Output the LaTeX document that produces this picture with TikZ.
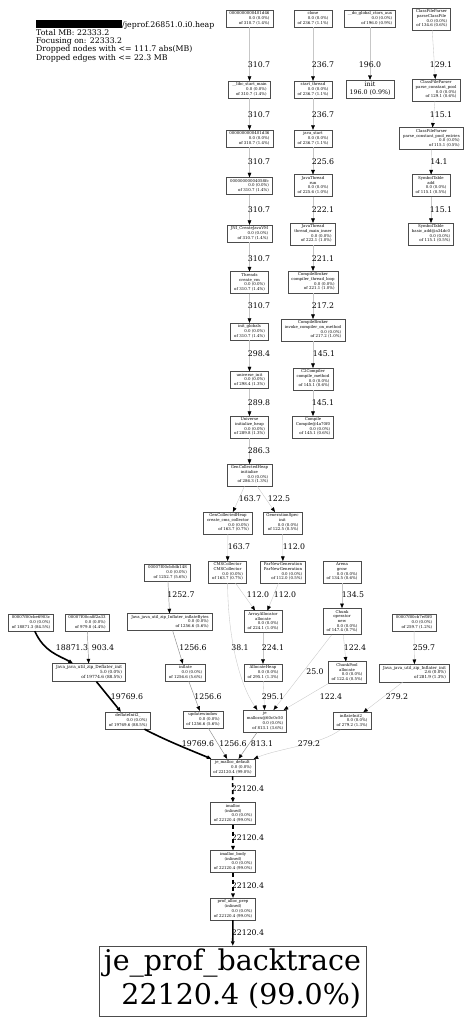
\documentclass[tikz,border=0pt]{standalone}
\usepackage{fontspec}
\setmainfont{DejaVu Serif}
\usetikzlibrary{arrows.meta}
\newcommand\nlab[3]{\begin{tabular}{@{}c@{}}#1\\\multicolumn{1}{@{}r@{}}{#2}\\\multicolumn{1}{@{}r@{}}{#3}\end{tabular}}
\newcommand\zz[2]{\nlab{#1}{0.0 (0.0\%)}{#2}}
\tikzset{
  nd/.style={draw=black!70, line width=0.5pt, fill=white, inner xsep=3.6pt, inner ysep=1.4pt, font=\fontsize{3.93}{4.7}\selectfont},
  lbl/.style={font=\fontsize{7.8}{8.3}\selectfont, inner sep=0},
  tip/.style={-{Triangle[length=4.5pt,width=3.6pt,color=black]}},
  ew0/.style={tip, draw=black!22, line width=0.35pt},
  ew1/.style={tip, draw=black!45, line width=0.45pt},
  ew2/.style={tip, draw=black, line width=1.6pt},
  ewd/.style={ew2, dash pattern=on 4pt off 3pt},
}
\begin{document}
\begin{tikzpicture}[x=1pt,y=-1pt]
\fill[white] (0,0) rectangle (474,1023);
\path[use as bounding box] (0,0) rectangle (474,1023);
% legend
\node[anchor=north west, align=left, inner sep=0, font=\fontsize{7.8}{8.25}\selectfont] (hdr) at (36,20)
 {\rule[-1.2pt]{86pt}{8.2pt}/jeprof.26851.0.i0.heap\\Total MB: 22333.2\\Focusing on: 22333.2\\Dropped nodes with <= 111.7 abs(MB)\\Dropped edges with <= 22.3 MB};
% column 1
\node[nd] (A0) at (249.5,18.5) {\zz{0000000000401d46}{of 310.7 (1.4\%)}};
\node[nd] (A1) at (249.5,89.5) {\zz{\_\_libc\_start\_main}{of 310.7 (1.4\%)}};
\node[nd] (A2) at (249.5,138.5) {\zz{0000000000401d36}{of 310.7 (1.4\%)}};
\node[nd] (A3) at (249.5,186) {\zz{00000000004058fc}{of 310.7 (1.4\%)}};
\node[nd] (A4) at (249.5,233.5) {\zz{JNI\_CreateJavaVM}{of 310.7 (1.4\%)}};
\node[nd] (A5) at (249.5,282.5) {\zz{Threads\\create\_vm}{of 310.7 (1.4\%)}};
\node[nd] (A6) at (249.5,331.5) {\zz{init\_globals}{of 310.7 (1.4\%)}};
\node[nd] (A7) at (249.5,380) {\zz{universe\_init}{of 298.4 (1.3\%)}};
\node[nd] (A8) at (249.5,427) {\zz{Universe\\initialize\_heap}{of 289.8 (1.3\%)}};
\node[nd] (A9) at (249.5,475) {\zz{GenCollectedHeap\\initialize}{of 286.3 (1.3\%)}};
% column 2
\node[nd] (B0) at (313,18.5) {\zz{clone}{of 236.7 (1.1\%)}};
\node[nd] (B1) at (313,89.5) {\zz{start\_thread}{of 236.7 (1.1\%)}};
\node[nd] (B2) at (313,138.5) {\zz{java\_start}{of 236.7 (1.1\%)}};
\node[nd] (B3) at (313,185.5) {\zz{JavaThread\\run}{of 225.6 (1.0\%)}};
\node[nd] (B4) at (313,234) {\zz{JavaThread\\thread\_main\_inner}{of 222.1 (1.0\%)}};
\node[nd] (B5) at (313,282) {\zz{CompileBroker\\compiler\_thread\_loop}{of 221.1 (1.0\%)}};
\node[nd] (B6) at (313,330) {\zz{CompileBroker\\invoke\_compiler\_on\_method}{of 217.2 (1.0\%)}};
\node[nd] (B7) at (313,379) {\zz{C2Compiler\\compile\_method}{of 145.1 (0.6\%)}};
\node[nd] (B8) at (313,427) {\zz{Compile\\Compile@4a70f0}{of 145.1 (0.6\%)}};
% column 3
\node[nd] (C0) at (370,18.5) {\zz{\_\_do\_global\_ctors\_aux}{of 196.0 (0.9\%)}};
\node[nd, font=\fontsize{6.3}{7.5}\selectfont] (C1) at (370,89) {\begin{tabular}{@{}c@{}}init\\196.0 (0.9\%)\end{tabular}};
% column 4
\node[nd] (D0) at (431.5,19) {\zz{ClassFileParser\\parseClassFile}{of 134.6 (0.6\%)}};
\node[nd] (D1) at (436,90) {\zz{ClassFileParser\\parse\_constant\_pool}{of 129.1 (0.6\%)}};
\node[nd] (D2) at (431.5,138.5) {\zz{ClassFileParser\\parse\_constant\_pool\_entries}{of 115.1 (0.5\%)}};
\node[nd] (D3) at (431,185.5) {\zz{SymbolTable\\add}{of 115.1 (0.5\%)}};
\node[nd] (D4) at (431,234) {\zz{SymbolTable\\basic\_add@a34dc0}{of 115.1 (0.5\%)}};
% middle
\node[nd] (E1) at (228,523) {\zz{GenCollectedHeap\\create\_cms\_collector}{of 163.7 (0.7\%)}};
\node[nd] (E2) at (282.5,523) {\zz{GenerationSpec\\init}{of 122.5 (0.5\%)}};
\node[nd] (F0) at (167.5,572.5) {\zz{00007f00cb0db148}{of 1252.7 (5.6\%)}};
\node[nd] (F1) at (227.5,572) {\zz{CMSCollector\\CMSCollector}{of 163.7 (0.7\%)}};
\node[nd] (F2) at (283,572) {\zz{ParNewGeneration\\ParNewGeneration}{of 112.0 (0.5\%)}};
\node[nd] (F3) at (342,572) {\zz{Arena\\grow}{of 134.5 (0.6\%)}};
\node[nd] (G0) at (31,622.5) {\zz{00007f00cbe6903c}{of 18871.3 (84.5\%)}};
\node[nd] (G1) at (87,622.5) {\zz{00007f00ca8f2a33}{of 979.8 (4.4\%)}};
\node[nd] (G2) at (170,622) {\zz{Java\_java\_util\_zip\_Inflater\_inflateBytes}{of 1256.6 (5.6\%)}};
\node[nd] (AA) at (263,621.5) {\zz{ArrayAllocator\\allocate}{of 224.1 (1.0\%)}};
\node[nd] (CH) at (342,621.5) {\zz{Chunk\\operator\\new}{of 147.4 (0.7\%)}};
\node[nd] (G5) at (414,622.5) {\zz{00007f00cb7ef0f0}{of 259.7 (1.2\%)}};
\node[nd, font=\fontsize{4.2}{5}\selectfont] (H0) at (89,672.5) {\nlab{Java\_java\_util\_zip\_Deflater\_init}{5.0 (0.0\%)}{of 19774.6 (88.5\%)}};
\node[nd] (H1) at (185.5,672.5) {\zz{inflate}{of 1256.6 (5.6\%)}};
\node[nd] (AH) at (263,672.5) {\zz{AllocateHeap}{of 295.1 (1.3\%)}};
\node[nd] (CP) at (347,672.5) {\zz{ChunkPool\\allocate}{of 122.4 (0.5\%)}};
\node[nd, font=\fontsize{4.1}{4.9}\selectfont] (II) at (414.5,673) {\nlab{Java\_java\_util\_zip\_Inflater\_init}{2.6 (0.0\%)}{of 281.9 (1.3\%)}};
\node[nd] (DI) at (128,720.5) {\zz{deflateInit2\_}{of 19769.6 (88.5\%)}};
\node[nd] (UW) at (203,719.5) {\zz{updatewindow}{of 1256.6 (5.6\%)}};
\node[nd] (JM) at (265,721) {\zz{je\\mallocx@60c0c50}{of 813.1 (3.6\%)}};
\node[nd] (IF) at (352,721) {\zz{inflateInit2\_}{of 279.2 (1.3\%)}};
\node[nd] (JMD) at (232.5,767.5) {\zz{je\_malloc\_default}{of 22120.4 (99.0\%)}};
\node[nd] (IM) at (233,813.5) {\zz{imalloc\\(inlined)}{of 22120.4 (99.0\%)}};
\node[nd] (IB) at (233,861.5) {\zz{imalloc\_body\\(inlined)}{of 22120.4 (99.0\%)}};
\node[nd] (PA) at (233,909) {\zz{prof\_alloc\_prep\\(inlined)}{of 22120.4 (99.0\%)}};
\node[nd, font=\fontsize{28.5}{34}\selectfont, inner xsep=5pt, inner ysep=1pt] (JPB) at (232.5,981)
 {\begin{tabular}{@{}c@{}}je\_prof\_backtrace\\\multicolumn{1}{@{}r@{}}{22120.4 (99.0\%)}\end{tabular}};
% edges column 1
\draw[ew0] (A0) -- (A1) node[lbl] at (259,65) {310.7};
\draw[ew0] (A1) -- (A2) node[lbl] at (259,115) {310.7};
\draw[ew0] (A2) -- (A3) node[lbl] at (259,162) {310.7};
\draw[ew0] (A3) -- (A4) node[lbl] at (259,210) {310.7};
\draw[ew0] (A4) -- (A5) node[lbl] at (259,259) {310.7};
\draw[ew0] (A5) -- (A6) node[lbl] at (259,306) {310.7};
\draw[ew0] (A6) -- (A7) node[lbl] at (259,354) {298.4};
\draw[ew0] (A7) -- (A8) node[lbl] at (259,403) {289.8};
\draw[ew0] (A8) -- (A9) node[lbl] at (259,451) {286.3};
\draw[ew0] (A9) -- (E1) node[lbl] at (250,499) {163.7};
\draw[ew0] (A9) -- (E2) node[lbl] at (279,499) {122.5};
% column 2
\draw[ew0] (B0) -- (B1) node[lbl] at (323,65) {236.7};
\draw[ew0] (B1) -- (B2) node[lbl] at (323,115) {236.7};
\draw[ew0] (B2) -- (B3) node[lbl] at (323,162) {225.6};
\draw[ew0] (B3) -- (B4) node[lbl] at (323,210) {222.1};
\draw[ew0] (B4) -- (B5) node[lbl] at (323,259) {221.1};
\draw[ew0] (B5) -- (B6) node[lbl] at (323,306) {217.2};
\draw[ew0] (B6) -- (B7) node[lbl] at (324,354) {145.1};
\draw[ew0] (B7) -- (B8) node[lbl] at (323,403) {145.1};
% column 3/4
\draw[ew0] (C0) -- (C1) node[lbl] at (370,65) {196.0};
\draw[ew0] (D0) -- (D1) node[lbl] at (441,65) {129.1};
\draw[ew0] (D1) -- (D2) node[lbl] at (441,115) {115.1};
\draw[ew0] (D2) -- (D3) node[lbl] at (439,162) {14.1};
\draw[ew0] (D3) -- (D4) node[lbl] at (441,210) {115.1};
% middle
\draw[ew0] (E1) -- (F1) node[lbl] at (239,547) {163.7};
\draw[ew0] (E2) -- (F2) node[lbl] at (294,547) {112.0};
\draw[ew0] (F1) -- (AA) node[lbl] at (258,595) {112.0};
\draw[ew0] (F2) -- (AA) node[lbl] at (285,595) {112.0};
\draw[ew0] (F3) -- (CH) node[lbl] at (353,595) {134.5};
\draw[ew1] (F0) -- (G2) node[lbl] at (181,595) {1252.7};
\draw[ew2] (G0) .. controls (44,652) and (60,656) .. (H0) node[lbl] at (72,648) {18871.3};
\draw[ew1] (G1) -- (H0) node[lbl] at (103,648) {903.4};
\draw[ew1] (G2) -- (H1) node[lbl] at (193,648) {1256.6};
\draw[ew0] (F1) .. controls (228,640) and (240,685) .. (JM) node[lbl] at (240,648) {38.1};
\draw[ew0] (AA) -- (AH) node[lbl] at (273,648) {224.1};
\draw[ew0] (CH) -- (CP) node[lbl] at (355,648) {122.4};
\draw[ew0] (CH) -- (JM) node[lbl] at (315,672) {25.0};
\draw[ew0] (G5) -- (II) node[lbl] at (424,648) {259.7};
\draw[ew2] (H0) -- (DI) node[lbl] at (127,697) {19769.6};
\draw[ew1] (H1) -- (UW) node[lbl] at (208,697) {1256.6};
\draw[ew0] (AH) -- (JM) node[lbl] at (273,697) {295.1};
\draw[ew0] (CP) -- (JM) node[lbl] at (331,697) {122.4};
\draw[ew0] (II) -- (IF) node[lbl] at (397,697) {279.2};
\draw[ew2] (DI) .. controls (165,740) and (190,750) .. (JMD) node[lbl] at (198,744) {19769.6};
\draw[ew1] (UW) -- (JMD) node[lbl] at (233,744) {1256.6};
\draw[ew1] (JM) -- (JMD) node[lbl] at (262,744) {813.1};
\draw[ew0] (IF) .. controls (320,745) and (280,748) .. (JMD) node[lbl] at (309,744) {279.2};
\draw[ewd] (JMD) -- (IM) node[lbl] at (248,789) {22120.4};
\draw[ewd] (IM) -- (IB) node[lbl] at (248,838) {22120.4};
\draw[ewd] (IB) -- (PA) node[lbl] at (248,886) {22120.4};
\draw[ew2] (PA) -- (JPB) node[lbl] at (248,933) {22120.4};
\end{tikzpicture}
\end{document}
